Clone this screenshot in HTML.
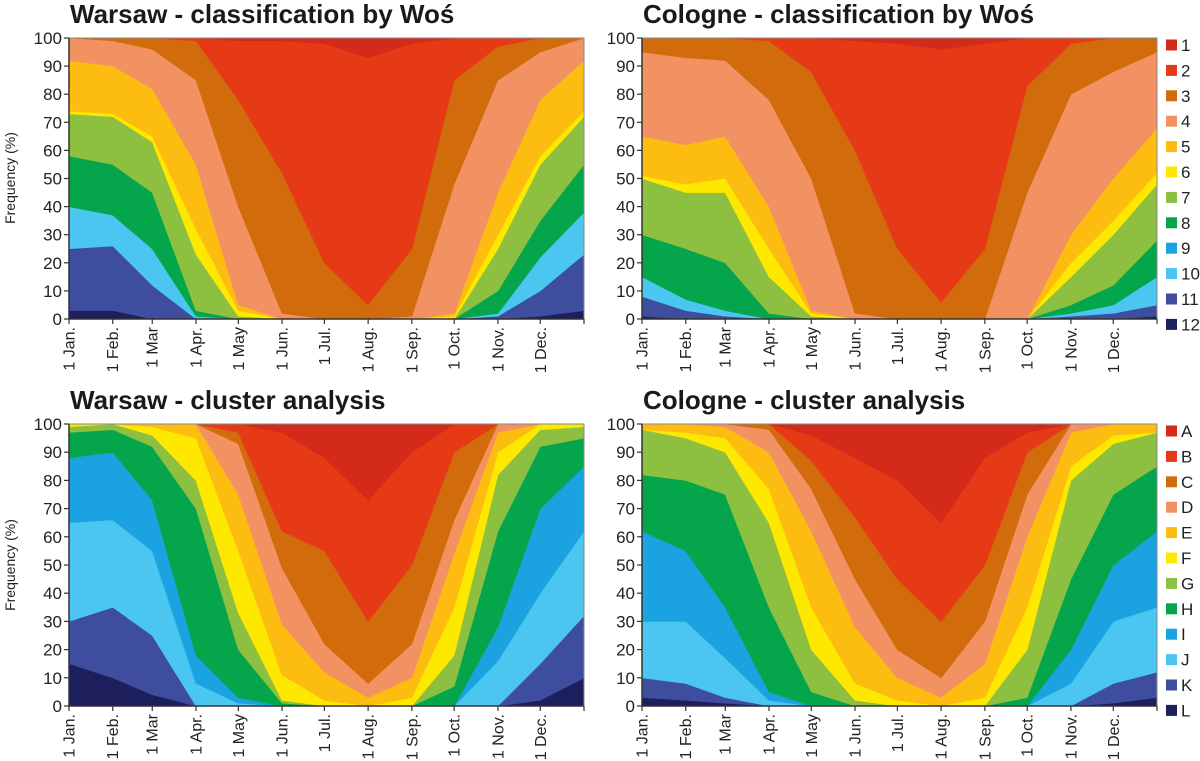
<!DOCTYPE html>
<html><head><meta charset="utf-8"><style>
html,body{margin:0;padding:0;background:#fff;}
svg{display:block;font-family:"Liberation Sans",sans-serif;}
</style></head><body>
<svg id="fig" width="1200" height="761" viewBox="0 0 1200 761" xmlns="http://www.w3.org/2000/svg">
<text x="70" y="23" font-size="26" font-weight="bold" fill="#1a1a1a">Warsaw - classification by Woś</text>
<text x="643" y="23" font-size="26" font-weight="bold" fill="#1a1a1a">Cologne - classification by Woś</text>
<text x="70" y="409" font-size="26" font-weight="bold" fill="#1a1a1a">Warsaw - cluster analysis</text>
<text x="643" y="409" font-size="26" font-weight="bold" fill="#1a1a1a">Cologne - cluster analysis</text>
<text transform="translate(15,178) rotate(-90)" text-anchor="middle" font-size="14" fill="#222">Frequency (%)</text>
<text transform="translate(15,565) rotate(-90)" text-anchor="middle" font-size="14" fill="#222">Frequency (%)</text>
</svg>
<script>
// Sample days (month starts + year end)
const sampleDays = [0,31,59,90,120,151,181,212,243,273,304,334,365];
const monthLabels = ["1 Jan.","1 Feb.","1 Mar","1 Apr.","1 May","1 Jun.","1 Jul.","1 Aug.","1 Sep.","1 Oct.","1 Nov.","1 Dec."];
const yTicks = [0,10,20,30,40,50,60,70,80,90,100];
const wosLabels = ["12","11","10","9","8","7","6","5","4","3","2","1"]; // bottom to top
const clusterLabels = ["L","K","J","I","H","G","F","E","D","C","B","A"];
const stackColors = ["#1d1f5c","#3e4d9e","#4ac6f0","#1aa3e0","#05a64b","#8dc040","#ffe800","#fdbd10","#f29263","#d26b0c","#e63a16","#d42a1a"];

// Warsaw – Woś (rows: class 12 ... class 1)
const warsawWos = [
 [3,3,0,0,0,0,0,0,0,0,0,1,3],
 [22,23,12,0,0,0,0,0,0,0,1,9,20],
 [15,11,13,1,0,0,0,0,0,0,1,12,15],
 [0,0,0,0,0,0,0,0,0,0,0,0,0],
 [18,18,20,2,0,0,0,0,0,0,8,13,17],
 [15,17,18,20,1,0,0,0,0,0,15,20,17],
 [1,1,2,9,2,0,0,0,0,1,5,3,2],
 [18,17,17,23,2,0,0,0,0,1,15,20,18],
 [8,9,14,30,35,2,0,0,1,46,40,17,8],
 [0,1,4,14,38,50,20,5,24,37,12,5,0],
 [0,0,0,1,21,47,78,88,73,15,3,0,0],
 [0,0,0,0,1,1,2,7,2,0,0,0,0]
];
// Cologne – Woś
const cologneWos = [
 [1,0,0,0,0,0,0,0,0,0,0,0,1],
 [7,3,1,0,0,0,0,0,0,0,1,2,4],
 [7,4,2,0,0,0,0,0,0,0,1,3,10],
 [0,0,0,0,0,0,0,0,0,0,0,0,0],
 [15,18,17,2,0,0,0,0,0,0,3,7,13],
 [20,20,25,13,1,0,0,0,0,0,10,18,20],
 [1,3,5,10,1,0,0,0,0,0,5,5,4],
 [14,14,15,15,1,0,0,0,0,0,10,15,16],
 [30,31,27,38,47,2,0,0,0,45,50,38,27],
 [5,7,8,21,38,58,25,6,25,38,18,12,5],
 [0,0,0,1,12,39,73,90,73,17,2,0,0],
 [0,0,0,0,0,1,2,4,2,0,0,0,0]
];
// Warsaw – cluster (rows: L ... A)
const warsawCluster = [
 [15,10,4,0,0,0,0,0,0,0,0,2,10],
 [15,25,21,0,0,0,0,0,0,0,0,13,22],
 [35,31,30,8,1,0,0,0,0,0,16,25,30],
 [23,24,18,10,2,0,0,0,0,0,12,30,23],
 [9,8,19,52,17,1,0,0,0,7,34,22,10],
 [2,2,4,10,13,1,0,0,0,11,20,6,4],
 [1,0,3,15,22,9,2,0,3,17,8,2,1],
 [0,0,1,5,20,18,10,3,7,19,7,0,0],
 [0,0,0,0,18,20,10,5,12,12,3,0,0],
 [0,0,0,0,4,13,33,22,28,24,0,0,0],
 [0,0,0,0,3,35,33,43,40,10,0,0,0],
 [0,0,0,0,0,3,12,27,10,0,0,0,0]
];
// Cologne – cluster
const cologneCluster = [
 [3,2,1,0,0,0,0,0,0,0,0,1,3],
 [7,6,2,0,0,0,0,0,0,0,0,7,9],
 [20,22,14,2,0,0,0,0,0,0,8,22,23],
 [32,25,18,3,0,0,0,0,0,0,12,20,27],
 [20,25,40,30,5,0,0,0,0,3,25,25,23],
 [16,15,15,30,15,2,0,0,0,17,35,18,12],
 [0,2,5,12,15,6,2,0,3,15,5,3,0],
 [2,3,4,13,27,20,8,3,12,25,12,4,3],
 [0,0,1,8,15,17,10,7,15,15,3,0,0],
 [0,0,0,2,10,22,25,20,20,15,0,0,0],
 [0,0,0,0,9,21,35,35,38,7,0,0,0],
 [0,0,0,0,4,12,20,35,12,3,0,0,0]
];

const NS = "http://www.w3.org/2000/svg";
const svg = document.getElementById("fig");
function mk(tag, attrs, parent){
  const e = document.createElementNS(NS, tag);
  for (const k in attrs) e.setAttribute(k, attrs[k]);
  (parent||svg).appendChild(e);
  return e;
}

function drawChart(name, series, labels, x0, y0, w, h, showYTitle){
  const g = mk("g", {});
  
  
  const xs = d => x0 + d/365*w;
  const ys = v => y0 + h - v/100*h;
  const n = sampleDays.length;
  const totals = [];
  for (let t=0;t<n;t++){ let s=0; for (const r of series) s+=r[t]; totals.push(s||1); }
  const cum = new Array(n).fill(0);
  series.forEach((row, k) => {
    const lower = cum.slice();
    for (let t=0;t<n;t++) cum[t] += row[t]/totals[t]*100;
    let pts = [];
    for (let t=0;t<n;t++) pts.push(xs(sampleDays[t]).toFixed(2)+","+ys(Math.min(cum[t],100)).toFixed(2));
    for (let t=n-1;t>=0;t--) pts.push(xs(sampleDays[t]).toFixed(2)+","+ys(Math.min(lower[t],100)).toFixed(2));
    const p = mk("polygon", {points: pts.join(" "), fill: stackColors[k], stroke: stackColors[k], "stroke-width": "0.6"}, g);
    
    
  });
  const frame = mk("rect", {x:x0, y:y0, width:w, height:h, fill:"none", stroke:"#8a8a8a", "stroke-width":"1"}, g);
  
  
  const ax = mk("path", {d:`M${x0},${y0} V${y0+h} H${x0+w}`, fill:"none", stroke:"#333", "stroke-width":"1.5"}, g);
  
  
  yTicks.forEach(v => {
    const y = ys(v);
    mk("line", {x1:x0-5, x2:x0, y1:y, y2:y, stroke:"#333", "stroke-width":"1.2"}, g);
    const tx = mk("text", {x:x0-7, y:y+6, "text-anchor":"end", "font-size":"17", fill:"#222"}, g);
    tx.textContent = v;
    
    
  });
  sampleDays.forEach((d, i) => {
    const x = xs(d);
    mk("line", {x1:x, x2:x, y1:y0+h, y2:y0+h+5, stroke:"#333", "stroke-width":"1.2"}, g);
    if (i < monthLabels.length){
      const tx = mk("text", {transform:`translate(${x+5.5},${y0+h+8}) rotate(-90)`, "text-anchor":"end", "font-size":"16", fill:"#222"}, g);
      tx.textContent = monthLabels[i];
      
      
    }
  });
}

function drawLegend(name, labels, x, yTop){
  const g = mk("g", {});
  
  
  for (let i=0;i<12;i++){
    const k = 11 - i;
    const y = yTop + i*25.4;
    const r = mk("rect", {x:x, y:y-5.5, width:11, height:11, fill:stackColors[k]}, g);
    
    
    const t = mk("text", {x:x+15, y:y+6, "font-size":"17", fill:"#222"}, g);
    t.textContent = labels[k];
    
    
  }
}

drawChart("warsaw-wos", warsawWos, wosLabels, 69, 38, 515, 281);
drawChart("cologne-wos", cologneWos, wosLabels, 642, 38, 515, 281);
drawChart("warsaw-cluster", warsawCluster, clusterLabels, 69, 424, 515, 282);
drawChart("cologne-cluster", cologneCluster, clusterLabels, 642, 424, 515, 282);
drawLegend("legend-wos", wosLabels, 1166, 45);
drawLegend("legend-cluster", clusterLabels, 1166, 431);
</script>
</body></html>
